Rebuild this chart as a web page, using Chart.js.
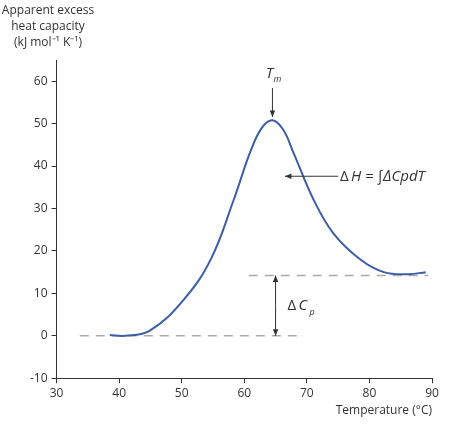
<!DOCTYPE html>
<html>
<head>
<meta charset="utf-8">
<script src="https://cdn.jsdelivr.net/npm/chart.js@4"></script>
<style>
  body { margin: 0; background: #fff; }
  #wrap { width: 450px; height: 424px; }
</style>
</head>
<body>
<div id="wrap"><canvas id="dsc"></canvas></div>
<script>
const temps = [38.5, 41, 44.9, 50.2, 54.6, 58.3, 61, 62.8, 64.5, 66.2, 67.9, 71.1, 74.3, 78.6, 82.3, 86.2, 89];
const heatCap = [0.2, 0, 1.2, 8.3, 17.9, 32, 43.5, 49, 50.8, 48.6, 43, 32, 24, 17.9, 15, 14.5, 15];
const baseLow = [[33.7, 0], [69, 0]];
const baseHigh = [[60.7, 14.2], [89.4, 14.2]];
const yTicks = [-10, 0, 10, 20, 30, 40, 50, 60];
const xTicks = [30, 40, 50, 60, 70, 80, 90];
const tmTemp = 64.5, dcpTemp = 65, dhLevel = 37.6, dhFrom = 75, dhTo = 66.5;

const font = "'Open Sans', sans-serif";
const grey = '#aaa';

function arrow(ctx, x1, y1, x2, y2) {
  ctx.beginPath(); ctx.moveTo(x1, y1); ctx.lineTo(x2, y2); ctx.stroke();
  const a = Math.atan2(y2 - y1, x2 - x1), s = 7;
  ctx.beginPath();
  ctx.moveTo(x2, y2);
  ctx.lineTo(x2 - s * Math.cos(a - 0.4), y2 - s * Math.sin(a - 0.4));
  ctx.lineTo(x2 - s * Math.cos(a + 0.4), y2 - s * Math.sin(a + 0.4));
  ctx.closePath(); ctx.fill();
}

const notes = {
  id: 'notes',
  afterDraw(chart) {
    const { ctx, scales: { x, y } } = chart;
    ctx.save();
    ctx.fillStyle = '#333'; ctx.strokeStyle = '#333'; ctx.lineWidth = 1;
    // y title
    ctx.font = `12px ${font}`; ctx.textAlign = 'center';
    ctx.fillText('Apparent excess', 48, 14);
    ctx.fillText('heat capacity', 48, 30);
    ctx.fillText('(kJ mol\u207B\u00B9 K\u207B\u00B9)', 48, 46);
    // Tm
    const tx = x.getPixelForValue(tmTemp);
    arrow(ctx, tx, 88, tx, 117);
    ctx.font = `italic 15px ${font}`;
    ctx.fillText('T', tx - 3, 78);
    ctx.font = `italic 9px ${font}`;
    ctx.fillText('m', tx + 5, 82);
    // dH
    const dy = y.getPixelForValue(dhLevel);
    arrow(ctx, x.getPixelForValue(dhFrom), dy, x.getPixelForValue(dhTo), dy);
    ctx.font = `15px ${font}`; ctx.textAlign = 'left'; ctx.textBaseline = 'middle';
    ctx.fillText('\u0394', 340, dy);
    ctx.font = `italic 15px ${font}`;
    ctx.fillText('H = \u222B\u0394CpdT', 351, dy);
    // dCp
    const cx = x.getPixelForValue(dcpTemp);
    const y0 = y.getPixelForValue(0), y1 = y.getPixelForValue(baseHigh[0][1]);
    arrow(ctx, cx, (y0 + y1) / 2, cx, y1);
    arrow(ctx, cx, (y0 + y1) / 2, cx, y0);
    ctx.font = `15px ${font}`;
    ctx.fillText('\u0394', cx + 12, (y0 + y1) / 2);
    ctx.font = `italic 15px ${font}`;
    ctx.fillText('C', cx + 23, (y0 + y1) / 2);
    ctx.font = `italic 9px ${font}`;
    ctx.fillText('p', cx + 34, (y0 + y1) / 2 + 7);
    ctx.restore();
  }
};

new Chart(document.getElementById('dsc'), {
  type: 'line',
  data: {
    datasets: [
      { data: temps.map((t, i) => ({ x: t, y: heatCap[i] })), borderColor: '#3b5ea8', borderWidth: 2, pointRadius: 0, tension: 0.4 },
      { data: baseLow.map(p => ({ x: p[0], y: p[1] })), borderColor: grey, borderWidth: 1.5, borderDash: [9, 7], pointRadius: 0 },
      { data: baseHigh.map(p => ({ x: p[0], y: p[1] })), borderColor: grey, borderWidth: 1.5, borderDash: [9, 7], pointRadius: 0 }
    ]
  },
  options: {
    responsive: true, maintainAspectRatio: false, animation: false,
    layout: { padding: { top: 60, left: 26, right: 18, bottom: 2 } },
    plugins: { legend: { display: false }, tooltip: { enabled: false } },
    scales: {
      x: {
        type: 'linear', min: 30, max: 90,
        afterBuildTicks: s => { s.ticks = xTicks.map(v => ({ value: v })); },
        ticks: { color: '#333', font: { family: font, size: 12 } },
        grid: { drawOnChartArea: false, tickLength: 5, color: '#333' },
        border: { color: '#333' },
        title: { display: true, text: 'Temperature (\u00B0C)', align: 'end', color: '#333', font: { family: font, size: 12 }, padding: { top: 0 } }
      },
      y: {
        min: -10, max: 65,
        afterBuildTicks: s => { s.ticks = yTicks.map(v => ({ value: v })); },
        ticks: { color: '#333', font: { family: font, size: 12 }, padding: 4 },
        grid: { drawOnChartArea: false, tickLength: 5, color: '#333' },
        border: { color: '#333' }
      }
    }
  },
  plugins: [notes]
});
</script>
</body>
</html>
